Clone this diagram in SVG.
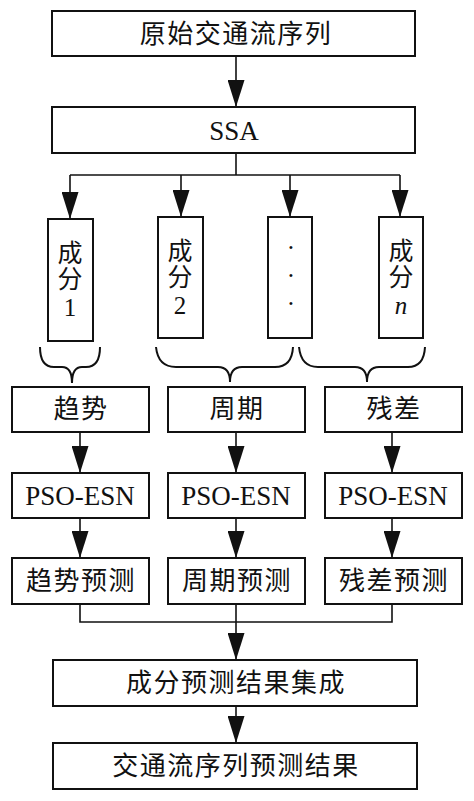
<svg xmlns="http://www.w3.org/2000/svg" width="474" height="801" viewBox="0 0 474 801">
<style>
.box{fill:#fff;stroke:#111;stroke-width:2}
.ln{fill:none;stroke:#111;stroke-width:1.6}
.br{fill:none;stroke:#111;stroke-width:2}
.zh{font-family:"Liberation Serif","Noto Sans CJK SC",serif;font-size:26px;letter-spacing:1.5px;fill:#111;text-anchor:middle;dominant-baseline:central}
.en{font-family:"Liberation Serif",serif;font-size:27px;fill:#111;text-anchor:middle;dominant-baseline:central}
.v{font-family:"Liberation Serif","Noto Sans CJK SC",serif;font-size:25px;fill:#111;text-anchor:middle;dominant-baseline:central}
</style>
<defs>
<marker id="arr" markerUnits="userSpaceOnUse" markerWidth="27" markerHeight="17" refX="27" refY="8.5" orient="auto">
<path d="M0,0 L27,8.5 L0,17 z" fill="#111"/>
</marker>
</defs>
<rect width="474" height="801" fill="#fff"/>
<g id="connectors">
<line class="ln" x1="236" y1="56" x2="236" y2="107" marker-end="url(#arr)"/>
<polyline class="ln" points="236,153 236,175"/>
<polyline class="ln" points="70,175 400,175"/>
<line class="ln" x1="70" y1="175" x2="70" y2="219" marker-end="url(#arr)"/>
<line class="ln" x1="181" y1="175" x2="181" y2="217" marker-end="url(#arr)"/>
<line class="ln" x1="290" y1="175" x2="290" y2="217" marker-end="url(#arr)"/>
<line class="ln" x1="400" y1="175" x2="400" y2="217" marker-end="url(#arr)"/>
<line class="ln" x1="80" y1="432" x2="80" y2="473" marker-end="url(#arr)"/>
<line class="ln" x1="236" y1="432" x2="236" y2="473" marker-end="url(#arr)"/>
<line class="ln" x1="392" y1="432" x2="392" y2="473" marker-end="url(#arr)"/>
<line class="ln" x1="80" y1="518" x2="80" y2="558" marker-end="url(#arr)"/>
<line class="ln" x1="236" y1="518" x2="236" y2="558" marker-end="url(#arr)"/>
<line class="ln" x1="392" y1="518" x2="392" y2="558" marker-end="url(#arr)"/>
<polyline class="ln" points="80,604 80,622 392,622 392,604"/>
<line class="ln" x1="236" y1="604" x2="236" y2="660" marker-end="url(#arr)"/>
<line class="ln" x1="236" y1="706" x2="236" y2="743" marker-end="url(#arr)"/>
</g>
<g id="braces">
<path class="br" d="M40,347 Q40,367 54,367 L62,367 Q72,367 72,383 Q72,367 82,367 L86,367 Q100,367 100,347"/>
<path class="br" d="M156,347 Q158,367 176,367 L218,367 Q230,367 230,382 Q230,367 242,367 L275,367 Q292,367 293,347"/>
<path class="br" d="M299,347 Q301,367 318,367 L355,367 Q367,367 367,382 Q367,367 379,367 L408,367 Q424,367 425,347"/>
</g>
<g id="n-source"><rect class="box" x="52" y="11" width="363" height="45"/><text class="zh" x="236" y="34">原始交通流序列</text></g>
<g id="n-ssa"><rect class="box" x="52" y="107" width="363" height="46"/><text class="en" x="234" y="131">SSA</text></g>
<g id="n-c1"><rect class="box" x="48" y="219" width="45" height="122"/><text class="v" x="70" y="253">成</text><text class="v" x="70" y="279">分</text><text class="v" x="70" y="307">1</text></g>
<g id="n-c2"><rect class="box" x="158" y="217" width="45" height="121"/><text class="v" x="180" y="251">成</text><text class="v" x="180" y="277">分</text><text class="v" x="180" y="305">2</text></g>
<g id="n-cdots"><rect class="box" x="268" y="217" width="44" height="121"/><text class="v" x="291" y="247">·</text><text class="v" x="291" y="275">·</text><text class="v" x="291" y="303">·</text></g>
<g id="n-cn"><rect class="box" x="379" y="217" width="44" height="121"/><text class="v" x="401" y="251">成</text><text class="v" x="401" y="277">分</text><text class="v" x="401" y="305" font-style="italic">n</text></g>
<g id="n-trend"><rect class="box" x="12" y="387" width="137" height="45"/><text class="zh" x="81" y="409">趋势</text></g>
<g id="n-period"><rect class="box" x="168" y="387" width="137" height="45"/><text class="zh" x="237" y="409">周期</text></g>
<g id="n-resid"><rect class="box" x="325" y="387" width="137" height="45"/><text class="zh" x="394" y="409">残差</text></g>
<g id="n-pso1"><rect class="box" x="12" y="473" width="137" height="45"/><text class="en" x="80" y="496">PSO-ESN</text></g>
<g id="n-pso2"><rect class="box" x="168" y="473" width="137" height="45"/><text class="en" x="236" y="496">PSO-ESN</text></g>
<g id="n-pso3"><rect class="box" x="325" y="473" width="137" height="45"/><text class="en" x="393" y="496">PSO-ESN</text></g>
<g id="n-tp"><rect class="box" x="12" y="558" width="137" height="46"/><text class="zh" x="81" y="581">趋势预测</text></g>
<g id="n-pp"><rect class="box" x="168" y="558" width="137" height="46"/><text class="zh" x="237" y="581">周期预测</text></g>
<g id="n-rp"><rect class="box" x="325" y="558" width="137" height="46"/><text class="zh" x="394" y="581">残差预测</text></g>
<g id="n-integ"><rect class="box" x="53" y="660" width="364" height="46"/><text class="zh" x="236" y="683">成分预测结果集成</text></g>
<g id="n-result"><rect class="box" x="53" y="743" width="364" height="46"/><text class="zh" x="236" y="766">交通流序列预测结果</text></g>
</svg>
